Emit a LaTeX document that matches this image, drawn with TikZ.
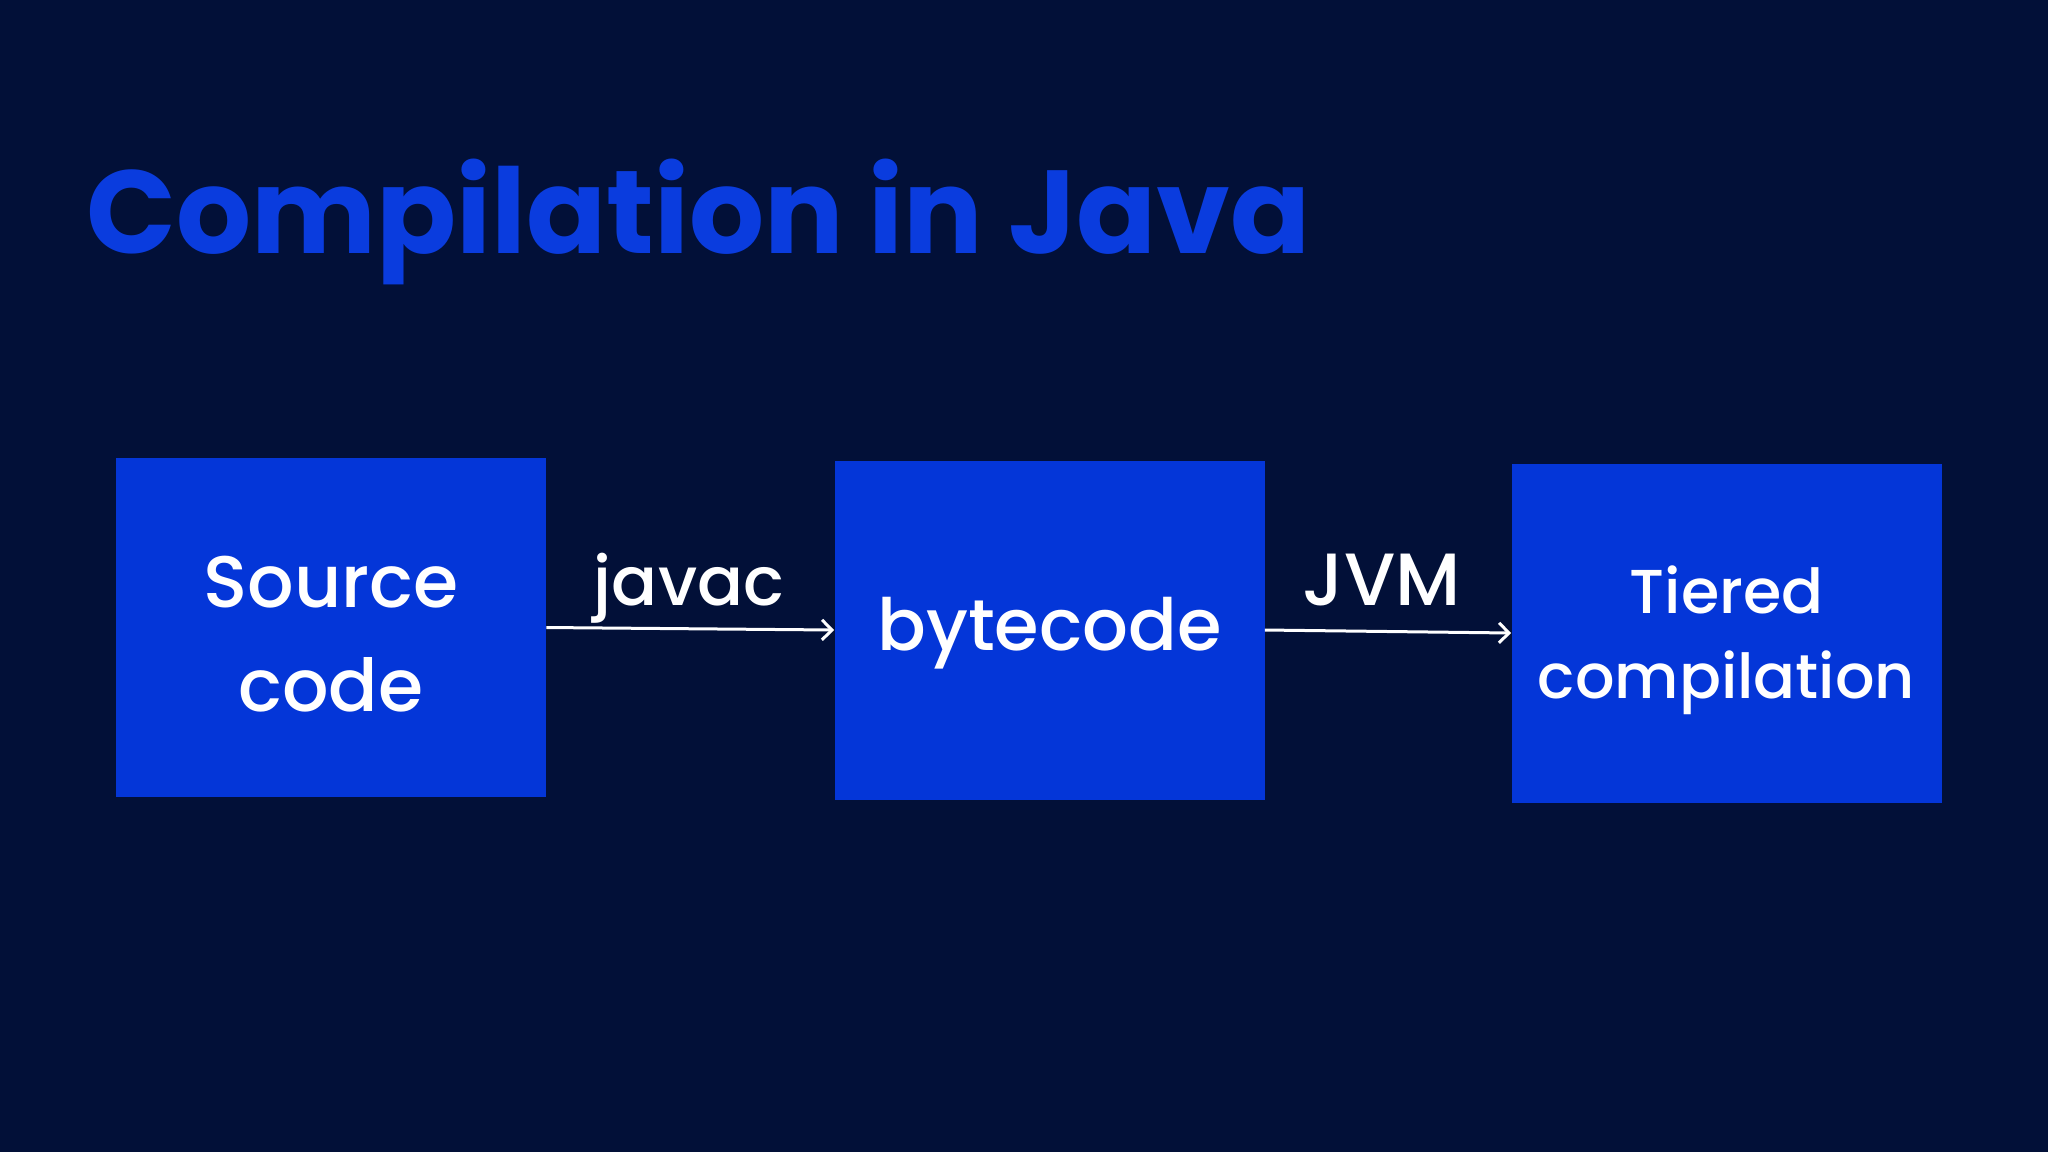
\documentclass[tikz,border=0pt]{standalone}
\usepackage{fontspec}
\setmainfont{Poppins}
\newfontfamily\titlefont{Poppins}[UprightFont=* Bold]
\newfontfamily\medfont{Poppins}[UprightFont=* Medium]
\usetikzlibrary{arrows.meta}
\definecolor{bgnavy}{RGB}{2,16,56}
\definecolor{boxblue}{RGB}{4,54,216}
\definecolor{titleblue}{RGB}{10,60,222}
\tikzset{
  stagebox/.style={fill=boxblue, draw=none, inner sep=0pt, minimum width=215pt, minimum height=169.5pt},
  boxtext/.style={text=white, inner sep=0pt, align=center},
  arr/.style={draw=white, line width=1.5pt, -{Straight Barb[length=5pt,width=10pt,line width=1.5pt]}},
  lbl/.style={text=white, inner sep=0pt, anchor=base}
}
\begin{document}
\begin{tikzpicture}[x=0.5pt,y=-0.5pt]
\fill[bgnavy] (0,0) rectangle (2048,1152);
\useasboundingbox (0,0) rectangle (2048,1152);
\node[anchor=base west, inner sep=0pt, text=titleblue, font=\titlefont\fontsize{59pt}{64pt}\selectfont] (title) at (86,253) {Compilation in Java};
\node[stagebox] (b1) at (331,627.5) {};
\node[stagebox] (b2) at (1049.5,630) {};
\node[stagebox] (b3) at (1726.5,633) {};
\node[boxtext, font=\medfont\fontsize{36.5pt}{52pt}\selectfont] (t1) at ([yshift=-3.5pt]b1.center) {Source\\code};
\node[boxtext, font=\medfont\fontsize{36pt}{44pt}\selectfont] (t2) at ([yshift=-1.5pt]b2.center) {bytecode};
\node[boxtext, font=\medfont\fontsize{31pt}{42.5pt}\selectfont] (t3) at ([yshift=-3.5pt]b3.center) {Tiered\\compilation};
\node[lbl, font=\medfont\fontsize{34pt}{42pt}\selectfont] (l1) at (689,605) {javac};
\node[lbl, font=\medfont\fontsize{37pt}{44pt}\selectfont] (l2) at (1382,605) {JVM};
\draw[arr] (b1.east) -- (b2.west);
\draw[arr] (b2.east) -- (b3.west);
\end{tikzpicture}
\end{document}
